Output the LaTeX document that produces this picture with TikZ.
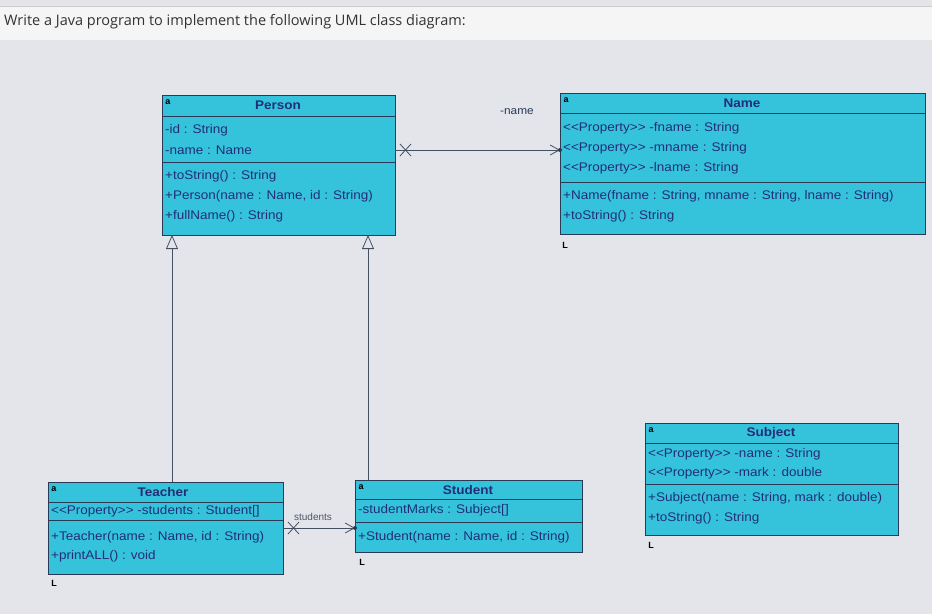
\documentclass[tikz,border=0pt]{standalone}
\usepackage{fontspec}
\setmainfont{Liberation Sans}
\newfontfamily\wide[FakeStretch=1.08]{Liberation Sans}
\newfontfamily\ttlfont{Open Sans}
\usetikzlibrary{arrows.meta}
\definecolor{bg}{HTML}{E4E5EA}
\definecolor{cls}{HTML}{35C3DC}
\definecolor{edge}{HTML}{2A3A55}
\begin{document}
\begin{tikzpicture}[x=1pt,y=-1pt,
  box/.style={draw=edge,fill=cls,line width=1pt},
  sep/.style={draw=edge,line width=0.8pt},
  txt/.style={anchor=west,inner sep=0,font=\wide\fontsize{12.5}{14}\selectfont,text=edge!80!blue},
  ttl/.style={inner sep=0,font=\wide\bfseries\fontsize{12.5}{14}\selectfont,text=edge!80!blue},
  icon/.style={inner sep=0,font=\fontsize{9}{10}\selectfont\bfseries,text=black},
  conn/.style={draw=edge!70!gray,line width=0.8pt},
  gen/.style={conn,-{Triangle[open,length=14pt,width=12pt]}},
  asc/.style={conn,-{Straight Barb[length=9pt,width=10pt]}}]
\useasboundingbox (0,0) rectangle (932,614);
\fill[bg] (0,0) rectangle (932,614);
\fill[gray!8] (0,6) rectangle (932,40);
\draw[gray!40] (0,6) -- (932,6);
\node[anchor=west,inner sep=0,font=\ttlfont\fontsize{14.5}{16}\selectfont,text=black!80] (title) at (4,22) {Write a Java program to implement the following UML class diagram:};
% Person
\draw[box] (162,95) rectangle (395,235);
\draw[sep] (162,116) -- (395,116); \draw[sep] (162,162) -- (395,162);
\node[ttl] (person) at (278,105) {Person};
\node[icon] (pi) at (168,102) {a};
\node[txt] at (165,130) {-id : String};
\node[txt] at (165,150) {-name : Name};
\node[txt] at (165,176) {+toString() : String};
\node[txt] at (165,196) {+Person(name : Name, id : String)};
\node[txt] at (165,216) {+fullName() : String};
\coordinate (pR) at (395,150);
\coordinate (pB1) at (172,235); \coordinate (pB2) at (368,235);
% Name
\draw[box] (560,93) rectangle (925,234);
\draw[sep] (560,113) -- (925,113); \draw[sep] (560,182) -- (925,182);
\node[ttl] (namec) at (742,103) {Name};
\node[icon] at (566,100) {a};
\node[txt] at (563,128) {{<}{<}Property{>}{>} -fname : String};
\node[txt] at (563,148) {{<}{<}Property{>}{>} -mname : String};
\node[txt] at (563,168) {{<}{<}Property{>}{>} -lname : String};
\node[txt] at (563,196) {+Name(fname : String, mname : String, lname : String)};
\node[txt] at (563,216) {+toString() : String};
\node[icon] at (565,245) {L};
\coordinate (nL) at (560,150);
% Teacher
\draw[box] (48,482) rectangle (283,574);
\draw[sep] (48,502) -- (283,502); \draw[sep] (48,520) -- (283,520);
\node[ttl] (teacher) at (163,492) {Teacher};
\node[icon] at (54,489) {a};
\node[txt] at (51,511) {{<}{<}Property{>}{>} -students : Student[]};
\node[txt] at (51,537) {+Teacher(name : Name, id : String)};
\node[txt] at (51,556) {+printALL() : void};
\node[icon] at (54,583) {L};
\coordinate (tT) at (172,482); \coordinate (tR) at (283,528);
% Student
\draw[box] (355,480) rectangle (582,552);
\draw[sep] (355,499) -- (582,499); \draw[sep] (355,522) -- (582,522);
\node[ttl] (student) at (468,490) {Student};
\node[icon] at (361,487) {a};
\node[txt] at (358,510) {-studentMarks : Subject[]};
\node[txt] at (358,537) {+Student(name : Name, id : String)};
\node[icon] at (362,562) {L};
\coordinate (sT) at (368,480); \coordinate (sL) at (355,528);
% Subject
\draw[box] (645,423) rectangle (898,535);
\draw[sep] (645,443) -- (898,443); \draw[sep] (645,484) -- (898,484);
\node[ttl] (subject) at (771,433) {Subject};
\node[icon] at (651,430) {a};
\node[txt] at (648,454) {{<}{<}Property{>}{>} -name : String};
\node[txt] at (648,473) {{<}{<}Property{>}{>} -mark : double};
\node[txt] at (648,498) {+Subject(name : String, mark : double)};
\node[txt] at (648,518) {+toString() : String};
\node[icon] at (651,545) {L};
% connectors
\draw[gen] (tT) -- (pB1);
\draw[gen] (sT) -- (pB2);
\draw[asc] (pR) -- (nL);
\fill[edge] (nL) circle (2pt);
\draw[conn] (400,144) -- (411,156) (400,156) -- (411,144);
\node[inner sep=0,font=\wide\fontsize{11}{12}\selectfont,text=edge] (nlab) at (517,112) {-name};
\draw[asc] (tR) -- (sL);
\fill[edge] (sL) circle (2pt);
\draw[conn] (288,522) -- (299,534) (288,534) -- (299,522);
\node[inner sep=0,font=\fontsize{10}{12}\selectfont,text=edge!60!gray] (slab) at (313,517) {students};
\end{tikzpicture}
\end{document}
